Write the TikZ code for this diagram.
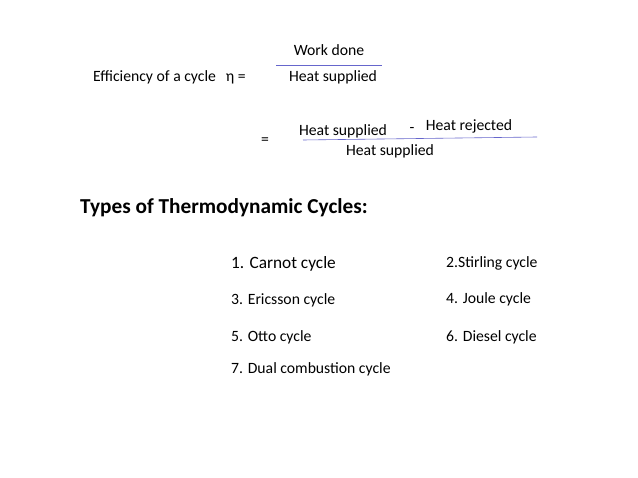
\documentclass[tikz,border=0pt]{standalone}
\usepackage{fontspec}
\setmainfont{Carlito}
\begin{document}
\begin{tikzpicture}[x=1pt,y=-1pt,
  txt/.style={inner sep=0pt,anchor=west,font=\fontsize{15.7}{18}\selectfont},
  ctxt/.style={inner sep=0pt,font=\fontsize{15.7}{18}\selectfont},
  frac/.style={draw=blue!50!gray!80,line width=0.6pt}]
\useasboundingbox[fill=white] (0,0) rectangle (638,478);
\node[txt] (eff) at (93,77) {Efficiency of a cycle\hspace{10pt}η =};
\node[ctxt] (wd) at (329,50) {Work done};
\node[ctxt] (hs1) at (333,77) {Heat supplied};
\coordinate (l1a) at (276,65); \coordinate (l1b) at (382,65);
\draw[frac] (l1a) -- (l1b);
\node[ctxt] (eq) at (265,141) {=};
\node[ctxt] (hs2) at (343,131) {Heat supplied};
\node[ctxt] (mn) at (412,130) {-};
\node[ctxt] (hr) at (469,126) {Heat rejected};
\coordinate (l2a) at (303,140); \coordinate (l2b) at (537,137);
\draw[frac] (l2a) -- (l2b);
\node[ctxt] (hs3) at (390,151) {Heat supplied};
\node[txt,font=\fontsize{21.3}{24}\selectfont\bfseries] (title) at (80,208) {Types of Thermodynamic Cycles:};
\node[txt,font=\fontsize{17.3}{20}\selectfont] (c1) at (231,264) {1. Carnot cycle};
\node[txt] (c2) at (446,263) {2.Stirling cycle};
\node[txt] (c3) at (231,300) {3. Ericsson cycle};
\node[txt] (c4) at (446,299) {4. Joule cycle};
\node[txt] (c5) at (231,337) {5. Otto cycle};
\node[txt] (c6) at (446,337) {6. Diesel cycle};
\node[txt] (c7) at (231,369) {7. Dual combustion cycle};
\end{tikzpicture}
\end{document}
